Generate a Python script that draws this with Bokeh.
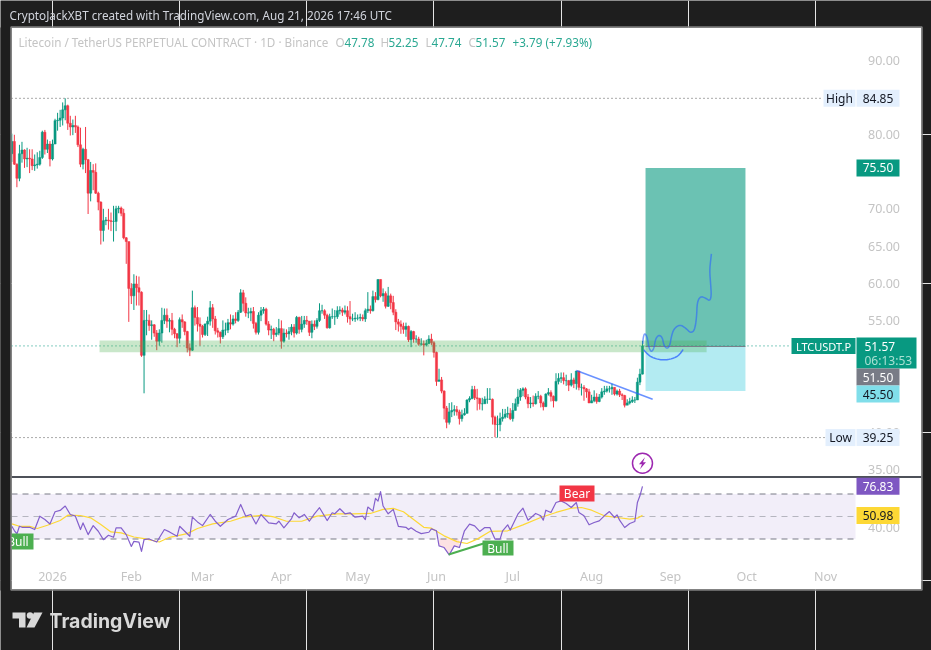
from bokeh.plotting import figure
from bokeh.embed import file_html
from bokeh.resources import INLINE
from bokeh.core.properties import value
from bokeh.models import Range1d, LinearAxis, FixedTicker, NumeralTickFormatter

# ---------- data (days are counted from 1 Jan 2026) ----------
first_day = -16
first_open = 77.4
closes = [79.05,76.0,74.1,77.4,77.9,76.7,76.8,76.7,75.8,75.9,76.0,76.9,80.3,78.0,78.7,76.7,
 78.7,81.85,81.9,82.2,83.3,83.85,81.5,81.0,81.2,81.0,78.6,76.0,78.0,76.6,72.1,75.15,74.9,72.1,70.9,67.1,
 68.4,68.5,68.4,68.3,68.3,70.0,70.1,69.4,66.1,65.6,59.3,58.3,59.9,59.4,58.8,50.3,55.0,55.0,54.3,54.4,
 53.3,52.2,53.3,55.0,55.7,54.9,55.0,53.8,53.2,52.6,55.1,54.8,53.5,51.3,51.0,56.7,55.4,54.5,54.2,53.1,
 54.5,54.9,56.7,55.2,53.6,53.4,52.8,53.7,53.7,54.7,54.5,55.2,55.0,56.1,58.7,57.3,56.0,56.0,56.2,54.6,
 53.4,55.7,56.3,56.5,54.5,53.7,53.8,53.1,53.3,53.9,52.2,53.3,53.2,53.5,54.1,53.3,55.4,53.8,54.5,55.0,
 54.9,53.4,54.5,54.2,55.0,56.3,56.3,55.7,54.0,55.5,55.5,55.5,56.3,56.4,56.1,56.3,55.5,55.2,55.2,55.3,
 55.3,55.4,55.2,56.3,56.5,56.3,58.2,57.8,60.5,58.3,58.6,56.9,58.3,57.4,56.1,54.8,54.5,54.2,53.8,54.2,
 52.4,53.5,52.5,52.5,51.8,51.85,51.7,51.9,52.5,52.0,50.7,46.8,47.0,45.5,43.2,41.3,42.7,42.9,43.0,42.7,
 41.8,42.3,42.5,44.3,44.5,45.7,44.6,44.5,43.8,43.8,44.4,44.4,44.4,42.0,41.0,41.0,41.8,42.0,42.4,42.5,
 41.8,42.9,43.8,44.7,45.6,45.8,44.7,43.8,43.9,43.8,44.8,44.8,43.9,43.4,45.1,45.3,44.8,44.2,46.8,47.2,
 47.3,46.9,46.9,46.3,47.0,46.5,48.2,46.0,46.0,45.8,45.4,43.9,44.2,44.7,44.1,44.7,45.4,45.5,45.8,45.8,
 46.0,45.1,45.5,45.0,44.9,43.6,43.9,44.1,44.3,44.3,46.7,47.78,51.57]
highs = [80.1,79.95,76.1,78.6,79.0,78.0,78.2,78.0,78.0,77.3,77.6,77.8,80.5,80.6,79.3,79.1,
 79.3,82.1,82.9,83.3,84.3,84.85,84.0,82.5,82.0,82.5,81.2,80.9,78.2,81.0,76.7,76.3,76.0,76.1,72.3,71.0,
 70.0,68.9,70.0,69.5,70.4,70.4,70.4,70.3,70.0,66.2,65.5,60.0,61.2,61.0,60.9,58.9,56.4,56.4,55.8,55.0,
 54.5,53.7,53.8,56.7,56.6,56.6,55.3,56.0,54.0,53.3,55.4,55.8,54.9,53.6,51.9,59.0,57.0,56.8,55.4,54.4,
 54.6,55.5,57.6,57.2,55.6,54.0,53.5,55.0,54.7,55.2,55.8,55.7,56.1,56.4,59.2,59.1,58.1,56.7,56.7,56.8,
 54.8,56.1,56.8,56.8,56.7,54.9,54.3,54.0,54.1,55.2,55.0,53.9,53.8,54.1,54.5,54.5,55.6,55.5,55.6,55.6,
 55.6,54.9,55.0,55.0,55.3,57.3,57.1,56.5,55.9,55.9,56.6,56.4,56.9,56.9,56.7,57.0,56.9,57.6,55.9,56.1,
 55.8,55.9,55.8,56.6,58.8,57.0,59.0,58.8,60.5,60.5,59.3,58.9,59.5,58.6,58.3,56.5,55.2,55.0,54.7,54.7,
 54.3,53.7,53.6,53.0,52.8,52.6,52.3,52.4,53.0,53.2,52.2,50.8,48.5,47.4,45.6,43.5,43.9,44.0,43.6,43.5,
 43.0,43.0,43.2,44.4,44.8,46.2,46.2,45.8,44.6,44.6,44.8,45.9,45.9,44.5,42.2,42.2,42.6,43.1,43.1,43.4,
 43.2,43.9,44.5,45.8,45.9,46.0,46.0,45.1,44.7,44.9,45.2,45.5,45.0,44.1,45.2,45.9,45.6,44.9,47.9,47.9,
 48.0,48.0,47.7,47.0,47.9,47.3,48.2,48.0,46.5,46.3,45.9,45.8,45.0,45.6,45.2,45.1,45.9,46.2,46.2,46.2,
 46.5,46.0,45.7,45.8,45.2,45.0,44.4,44.6,44.8,44.7,47.3,48.5,52.25]
lows = [76.3,75.9,72.9,73.7,76.2,75.5,75.6,74.8,75.2,75.1,75.4,75.8,76.7,77.3,77.5,75.7,
 76.5,78.9,80.5,81.0,81.2,81.9,80.6,79.85,79.9,80.2,78.3,75.6,75.3,74.8,69.3,71.0,72.5,72.0,69.8,65.2,
 65.6,67.8,67.2,67.0,65.6,67.0,69.4,69.0,65.9,62.6,54.8,57.2,56.4,57.0,57.0,50.1,45.2,53.0,53.6,52.4,
 52.8,51.0,51.6,52.0,54.5,54.0,53.4,53.0,52.6,51.4,51.9,54.0,53.0,50.7,50.2,50.9,54.3,53.5,51.6,52.7,
 52.9,52.9,54.3,54.0,53.1,52.7,51.9,52.5,53.0,53.3,53.8,54.3,54.6,54.8,56.0,56.2,55.5,55.3,54.9,53.9,
 53.1,53.1,54.9,55.9,54.3,53.0,52.5,52.2,52.8,53.0,51.2,52.0,52.7,52.4,53.0,52.7,53.1,53.2,53.4,54.0,
 54.4,52.9,52.6,53.7,53.9,54.8,55.9,55.2,53.9,53.9,55.2,54.4,55.2,55.8,55.6,55.8,54.7,54.4,54.9,54.8,
 55.0,54.9,54.9,54.8,56.0,55.9,56.2,57.4,57.7,58.1,57.5,56.6,56.8,56.5,55.7,53.7,53.5,53.2,53.2,52.8,
 52.1,51.4,52.0,52.0,51.6,51.6,50.3,51.5,51.8,51.7,50.0,46.2,46.9,45.2,41.7,40.5,41.0,42.0,42.2,42.2,
 41.0,41.4,42.2,43.0,44.0,44.4,44.3,42.9,43.0,42.9,43.8,43.8,44.3,41.0,39.3,39.25,40.1,41.4,41.8,41.9,
 41.6,41.4,42.9,43.4,44.2,44.8,44.4,43.2,43.2,43.4,43.7,44.4,43.3,42.9,43.4,44.9,44.1,43.3,44.1,46.4,
 46.6,46.4,46.2,45.5,46.1,45.9,45.7,45.6,44.9,44.2,44.6,43.9,43.9,44.0,43.8,44.0,44.5,45.0,45.3,45.3,
 45.0,44.9,44.9,44.7,44.3,43.3,43.7,43.7,43.9,43.9,44.4,46.3,47.74]

rsi_days = [-16,-15,-14,-13,-12,-9,-7,-5,-3,-1,1,3,5,7,9,11,12,14,16,18,20,22,24,25,27,29,31,32,34,35,36,38,41,44,46,49,50,52,54,55,57,59,62,64,66,69,72,74,76,78,80,82,85,88,89,91,94,95,97,99,101,103,105,108,110,111,113,115,117,119,122,123,124,126,127,128,129,130,132,134,136,139,140,141,143,145,148,149,151,152,154,156,158,160,162,164,166,168,170,172,174,176,177,179,180,183,185,187,190,192,193,194,196,198,200,202,204,206,207,209,211,213,215,217,219,221,222,223,225,227,229,230,231,232]
rsi_vals = [41.3,37.5,34.5,41.3,40.4,40.4,38.4,50.3,47.3,43.4,54.2,55.4,59.3,51.8,50.3,38.4,44.3,33.9,41.9,36.9,29.4,33.3,31.5,39.9,39.9,33.9,23.4,27.9,27.3,19.0,29.4,30.0,27.3,38.4,36.3,32.4,41.3,36.9,32.4,49.4,45.2,41.9,51.8,45.8,41.3,47.3,50.3,60.7,50.3,51.8,43.4,51.8,44.3,43.4,45.8,39.9,48.2,53.3,48.8,51.8,45.8,52.4,57.8,46.4,53.3,52.4,56.9,52.4,53.3,49.4,50.3,47.3,58.4,54.8,66.1,63.7,72.1,59.3,52.4,56.3,41.3,40.4,38.4,39.9,36.9,34.8,36.0,39.0,37.3,23.9,22.4,15.9,23.9,22.4,37.3,43.2,41.7,36.7,40.2,40.2,29.9,29.9,37.3,42.6,37.9,52.1,57.4,46.7,52.7,50.6,46.7,55.6,53.6,62.4,63.9,61.6,58.0,62.4,53.6,50.6,42.6,44.7,46.1,50.6,54.4,49.1,51.5,46.7,40.2,43.8,45.6,62.4,68.4,76.83]
rsi_ma_days = [-16,-13,-9,-6,-2,3,6,11,15,19,23,27,32,36,42,46,53,57,63,70,75,83,87,92,98,104,112,118,125,130,134,138,142,146,149,154,159,163,167,172,179,185,192,198,204,208,212,217,222,227,230,232]
rsi_ma_vals = [43.4,41.3,41.3,39.3,42.2,46.4,51.2,50.9,48.8,42.8,36.3,35.4,31.8,30.3,27.3,31.5,34.8,39.3,43.4,45.8,49.4,51.2,49.7,45.8,45.8,50.3,52.4,52.4,52.7,56.3,57.2,54.2,47.3,40.4,39.6,32.8,27.7,26.0,29.9,36.7,37.3,42.6,49.1,53.6,57.4,58.0,55.6,50.6,49.1,47.6,48.5,50.98]
oversold_days = [152,154,156,158,160]
oversold_vals = [23.9,22.4,15.9,23.9,22.4]

month_days = [0,31,59,90,120,151,181,212,243,273,304]
month_labels = ["2026","Feb","Mar","Apr","May","Jun","Jul","Aug","Sep","Oct","Nov"]
price_ticks = [90,80,70,65,60,55,40,35]
rsi_ticks = [40]

high_price, low_price, last_price = 84.85, 39.25, 51.57
entry_price, target_price, stop_price = 51.50, 75.50, 45.50
rsi_last, rsi_ma_last = 76.83, 50.98
rsi_levels = [70, 50, 30]
zone_low, zone_high = 50.73, 52.3
position_start, position_end = 233.2, 272.5
zone_start, zone_end = 18.5, 257.2
trend_days, trend_prices = [206, 236], [48.26, 44.4]
bull_days, bull_rsi = [155.8, 169.5], [16.2, 26.0]
sketch_days = [232.1,232.3,232.9,233.9,234.5,235.4,236.5,237.1,238.4,239.8,240.4,241.7,242.8,243.3,244.3,246.7,248.9,250.9,252.5,253.3,253.5,254.8,256.8,258.5,259.1,258.8,258.4,258.8,259.1]
sketch_prices = [51.85,52.75,53.3,52.75,51.4,50.73,51.18,52.5,53.06,52.75,51.63,51.18,51.63,52.75,53.87,54.45,54.0,53.3,53.64,55.43,57.45,58.26,58.0,57.6,58.35,59.9,61.7,63.05,63.95]
arc_days = [232.5,234.5,237.1,240.4,243.7,246.3,248.0]
arc_prices = [51.04,50.28,49.83,49.66,49.83,50.28,51.09]

GREEN, RED, PURPLE, YELLOW = "#089981", "#f23645", "#7e57c2", "#fdd835"
DARK, INK, PALE, TICK = "#1e1e1e", "#131722", "#e3effd", "#c4c4c4"
FONT = "Noto Sans"

# ---------- scale: whole canvas is the plotting frame ----------
W, H = 931, 650
PX_PER_DAY, DAY0_PX = 2.543, 52.0
PX_PER_PRICE, P90_PX = 7.44, 59.5
PX_PER_RSI, R50_PX = 1.125, 516.0
X = lambda px: (px - DAY0_PX) / PX_PER_DAY
Y = lambda px: 90 - (px - P90_PX) / PX_PER_PRICE
R = lambda px: 50 + (R50_PX - px) / PX_PER_RSI

p = figure(width=W, height=H, output_backend="svg", toolbar_location=None,
           x_range=Range1d(X(0), X(W)), y_range=Range1d(Y(H), Y(0)),
           x_axis_location=None, y_axis_location=None,
           min_border=0, background_fill_color=DARK, border_fill_color=DARK,
           outline_line_color=None,
           styles={"position": "fixed", "left": "0", "top": "0"})
p.extra_y_ranges = {"rsi": Range1d(R(H), R(0))}

def rsi_y(v):
    return Y(R50_PX + (50 - v) * PX_PER_RSI)

def rounded(xs, ys, passes=2):
    """Round the corners of a hand-drawn stroke (Chaikin corner cutting)."""
    for _ in range(passes):
        nx, ny = [xs[0]], [ys[0]]
        for i in range(len(xs) - 1):
            nx += [0.75 * xs[i] + 0.25 * xs[i + 1], 0.25 * xs[i] + 0.75 * xs[i + 1]]
            ny += [0.75 * ys[i] + 0.25 * ys[i + 1], 0.25 * ys[i] + 0.75 * ys[i + 1]]
        xs, ys = nx + [xs[-1]], ny + [ys[-1]]
    return xs, ys

# panel
p.quad(left=X(11), right=X(921), top=Y(27), bottom=Y(589), fill_color="white", line_color=None)

# axes
yaxis = LinearAxis(fixed_location=X(859.5), ticker=FixedTicker(ticks=price_ticks),
                   formatter=NumeralTickFormatter(format="0.00"),
                   axis_line_color=None, major_tick_line_color=None, minor_tick_line_color=None,
                   major_label_text_color=TICK, major_label_text_font=FONT,
                   major_label_text_font_size="12.5px", major_label_standoff=2)
p.add_layout(yaxis, "right")
raxis = LinearAxis(fixed_location=X(859.5), y_range_name="rsi", ticker=FixedTicker(ticks=rsi_ticks),
                   formatter=NumeralTickFormatter(format="0.00"),
                   axis_line_color=None, major_tick_line_color=None, minor_tick_line_color=None,
                   major_label_text_color=TICK, major_label_text_font=FONT,
                   major_label_text_font_size="12.5px", major_label_standoff=2)
p.add_layout(raxis, "right")
xaxis = LinearAxis(fixed_location=Y(561), ticker=FixedTicker(ticks=month_days),
                   major_label_overrides=dict(zip(month_days, month_labels)),
                   axis_line_color=None, major_tick_line_color=None, minor_tick_line_color=None,
                   major_label_text_color=TICK, major_label_text_font=FONT,
                   major_label_text_font_size="12.5px", major_label_standoff=0)
p.add_layout(xaxis, "below")

# position box and zones
p.quad(left=position_start, right=position_end, bottom=entry_price, top=target_price,
       fill_color=GREEN, fill_alpha=0.6, line_color=None)
p.quad(left=position_start, right=position_end, bottom=stop_price, top=entry_price,
       fill_color="#80deea", fill_alpha=0.6, line_color=None)

# reference lines
p.segment(X(11), high_price, X(823), high_price, line_color="#555555", line_dash="1 3", line_width=1)
p.segment(X(11), low_price, X(825), low_price, line_color="#555555", line_dash="1 3", line_width=1)
p.segment(X(11), last_price, X(791), last_price, line_color=GREEN, line_dash="1 3", line_width=1)

# candles
days = [first_day + i for i in range(len(closes))]
opens = [first_open] + closes[:-1]
colors = [GREEN if c >= o else RED for o, c in zip(opens, closes)]
p.segment(days, highs, days, lows, line_color=colors, line_width=1)
p.vbar(x=days, width=0.85, top=[max(o, c) for o, c in zip(opens, closes)],
       bottom=[min(o, c) for o, c in zip(opens, closes)], fill_color=colors, line_color=colors, line_width=0.5)

p.quad(left=zone_start, right=zone_end, bottom=zone_low, top=zone_high,
       fill_color="#4caf50", fill_alpha=0.3, line_color=None)
p.segment(position_start, entry_price, position_end, entry_price, line_color="#787b86", line_width=1)

# drawings
p.line(trend_days, trend_prices, line_color="#2962ff", line_alpha=0.7, line_width=1.5)
sx, sy = rounded(sketch_days, sketch_prices)
p.line(sx, sy, line_color="#2962ff", line_alpha=0.6, line_width=1.5, line_join="round")
ax, ay = rounded(arc_days, arc_prices)
p.line(ax, ay, line_color="#2962ff", line_alpha=0.75, line_width=1.5, line_join="round")

# bolt badge
bolt_day, bolt_price = 232, 35.8
p.scatter([bolt_day], [bolt_price], marker="circle", size=20, fill_color="white",
          line_color="#9c27b0", line_width=1.5)
bolt_dx = [2.5, -3.5, -0.5, -2.5, 3.5, 0.5]
bolt_dy = [-6, 1, 1, 6, -1, -1]
p.patch([bolt_day + d / PX_PER_DAY for d in bolt_dx],
        [bolt_price - d / PX_PER_PRICE for d in bolt_dy], fill_color="#9c27b0", line_color=None)

# RSI pane
p.segment(X(11), Y(476.5), X(921), Y(476.5), line_color=INK, line_width=1.5)
p.quad(left=X(11), right=X(855), bottom=30, top=70, y_range_name="rsi",
       fill_color=PURPLE, fill_alpha=0.1, line_color=None)
for lvl in rsi_levels:
    p.segment(X(11), lvl, X(855), lvl, y_range_name="rsi", line_color="#787b86",
              line_alpha=0.5 if lvl == 50 else 1.0, line_dash="6 5", line_width=1)
p.varea(oversold_days, y1=oversold_vals, y2=[30] * len(oversold_vals), y_range_name="rsi",
        fill_color=RED, fill_alpha=0.15)
p.line(rsi_ma_days, rsi_ma_vals, y_range_name="rsi", line_color=YELLOW, line_width=1.2)
p.line(rsi_days, rsi_vals, y_range_name="rsi", line_color="#8460cc", line_width=1.2, line_join="round")
p.line(bull_days, bull_rsi, y_range_name="rsi", line_color="#4caf50", line_width=2)

def box(cx, cy, w, h, color):
    p.rect([cx], [cy], width=w, height=h, width_units="screen", height_units="screen",
           fill_color=color, line_color=None, level="overlay")

def txt(x, y, s, color, size=12, align="center", style="normal", font=FONT, alpha=1.0):
    p.text([x], [y], text=[s], text_color=color, text_font=value(font), text_font_size=f"{size}px",
           text_align=align, text_baseline="middle", text_font_style=style, text_alpha=alpha, level="overlay")

def chip(px_l, px_r, cy, h, color, s, ink, size=12):
    box(X((px_l + px_r) / 2), cy, px_r - px_l, h, color)
    txt(X((px_l + px_r) / 2), cy, s, ink, size=size)

# signal badges
chip(482, 513, rsi_y(50 + (516 - 547.5) / PX_PER_RSI), 15, "#4caf50", "Bull", "white")
chip(559, 594, rsi_y(50 + (516 - 493) / PX_PER_RSI), 16, RED, "Bear", "white")
chip(2, 33, rsi_y(50 + (516 - 541) / PX_PER_RSI), 16, "#4caf50", "Bull", "white")

# right-hand chips
chip(823, 855, high_price, 17, PALE, "High", INK)
chip(856, 899, high_price, 17, PALE, f"{high_price:.2f}", INK)
chip(856, 899, target_price, 17, GREEN, f"{target_price:.2f}", "white")
chip(791, 855, Y(345.5), 16, GREEN, "LTCUSDT.P", "white", size=11)
box(X(886), Y(352.5), 60, 31, GREEN)
txt(X(864), Y(345.5), f"{last_price:.2f}", "white", align="left")
txt(X(864), Y(359.5), "06:13:53", "#a8e0d3", align="left")
chip(856, 899, Y(376.5), 17, "#787b86", f"{entry_price:.2f}", "white")
chip(856, 899, Y(393.5), 17, "#80deea", f"{stop_price:.2f}", INK)
chip(825, 855, low_price, 17, PALE, "Low", INK)
chip(856, 899, low_price, 17, PALE, f"{low_price:.2f}", INK)
chip(856, 899, rsi_y(rsi_last), 17, PURPLE, f"{rsi_last:.2f}", "white")
chip(856, 899, rsi_y(rsi_ma_last), 17, YELLOW, f"{rsi_ma_last:.2f}", INK)

# chrome over everything that may spill
p.quad(left=X(0), right=X(10.5), top=Y(27), bottom=Y(590), fill_color=DARK, line_color=None, level="overlay")
p.quad(left=X(10.5), right=X(921.5), top=Y(26.5), bottom=Y(589.5), fill_color=None,
       line_color="#808080", line_width=1.5, level="overlay")

# header
txt(X(9), Y(14), "CryptoJackXBT created with TradingView.com, Aug 21, 2026 17:46 UTC", "#d1d4dc", size=11.7, align="left")
txt(X(18), Y(41.5), "Litecoin / TetherUS PERPETUAL CONTRACT \u00b7 1D \u00b7 Binance", "#c4c4c4", size=11.7, align="left")
for px, s, c in [(335, "O", "#c4c4c4"), (344, "47.78", "#2aa892"), (380, "H", "#c4c4c4"), (388, "52.25", "#2aa892"),
                 (425, "L", "#c4c4c4"), (431, "47.74", "#2aa892"), (468, "C", "#c4c4c4"), (475, "51.57", "#2aa892"),
                 (512, "+3.79", "#2aa892"), (545, "(+7.93%)", "#2aa892")]:
    txt(X(px), Y(41.5), s, c, size=11.7, align="left")

# logo
LOGO = "#d9d9d9"
p.patch([X(v) for v in (12, 25, 25, 18.5, 18.5, 12)], [Y(v) for v in (612, 612, 627, 627, 618, 618)],
        fill_color=LOGO, line_color=None)
p.scatter([X(29.5)], [Y(615)], marker="circle", size=6.5, fill_color=LOGO, line_color=None)
p.patch([X(v) for v in (33.5, 42, 34, 26)], [Y(v) for v in (612, 612, 627, 627)],
        fill_color=LOGO, line_color=None)
txt(X(49), Y(620), "TradingView", LOGO, size=19.5, align="left", style="bold", font="Inter")

open("out.html", "w").write(file_html(p, INLINE))
